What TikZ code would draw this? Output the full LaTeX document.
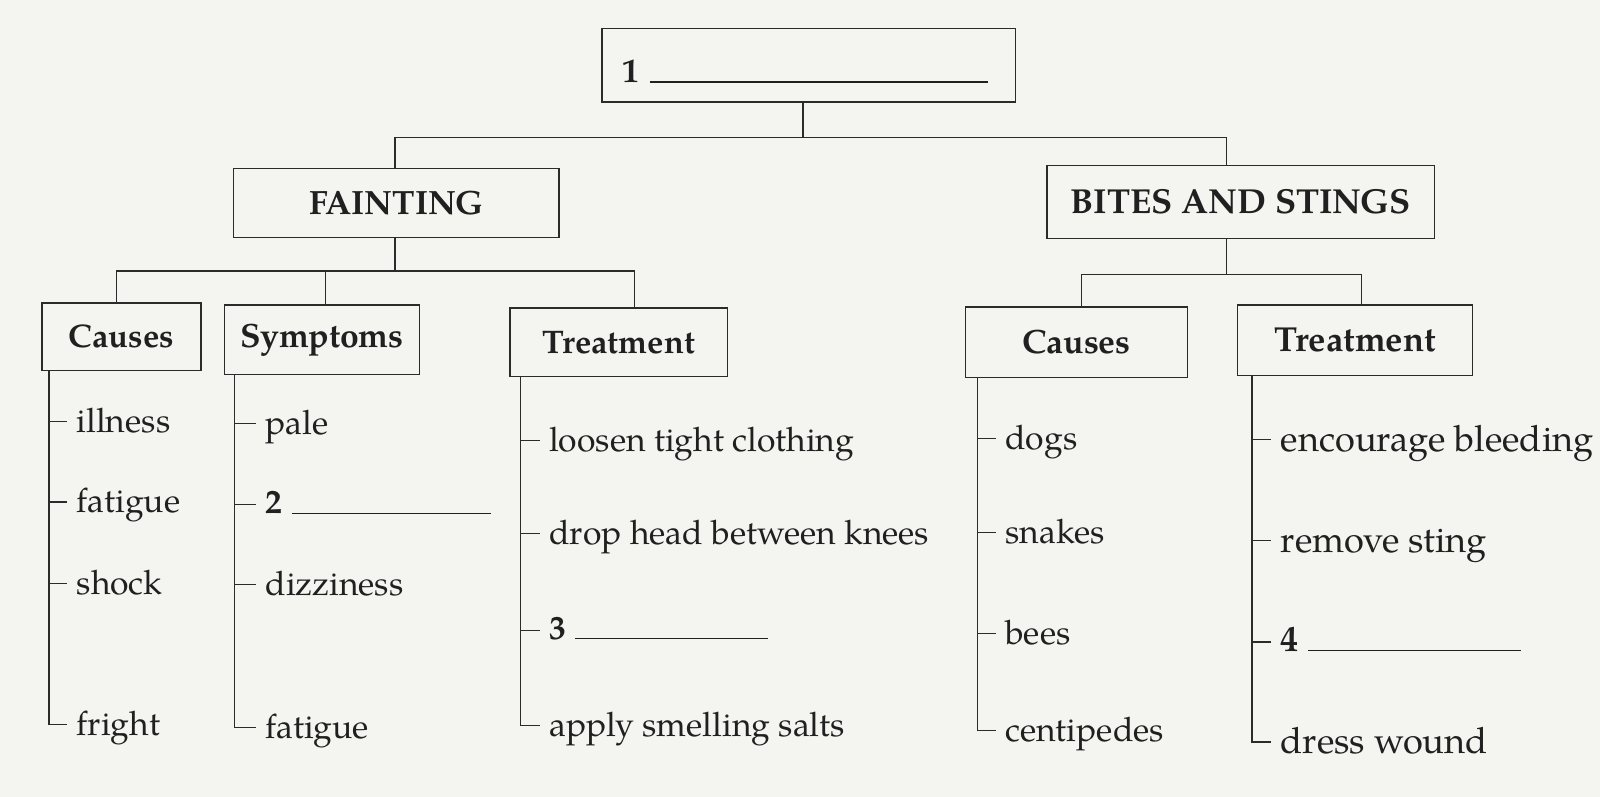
\documentclass[tikz,border=0pt]{standalone}
\usepackage{fontspec}
\setmainfont{TeX Gyre Pagella}
\definecolor{ink}{HTML}{2B2B2B}
\definecolor{txt}{HTML}{202020}
\definecolor{paper}{HTML}{F4F4F1}
\begin{document}
\begin{tikzpicture}[x=1pt,y=-1pt,
  box/.style={draw=ink, line width=1.4pt, inner sep=0pt, text=txt,
    font=\fontsize{32}{34}\selectfont\bfseries},
  item/.style={anchor=base west, inner sep=0pt, text=txt,
    font=\fontsize{33}{35}\selectfont},
  itemR/.style={item, font=\fontsize{35.5}{37}\selectfont},
  conn/.style={draw=ink, line width=1.3pt}]
\fill[paper] (0,0) rectangle (1568,781.06);
\useasboundingbox (0,0) rectangle (1568,781.06);
% top box
\node[box, minimum width=405pt, minimum height=72pt] (top) at (792.5,64) {};
\node[item, anchor=base west] (blank1) at (610,81) {\textbf{1}\hspace{10pt}\rule{332pt}{1.3pt}};
% level 1
\node[box, minimum width=319pt, minimum height=68pt, font=\fontsize{33}{35}\selectfont\bfseries] (faint) at (388.5,199) {FAINTING};
\node[box, minimum width=380pt, minimum height=72pt, font=\fontsize{34}{36}\selectfont\bfseries] (bites) at (1216,198) {BITES AND STINGS};
\draw[conn] ([xshift=-5.5pt]top.south) -- ++(0,34) -| ([xshift=-1.5pt]faint.north);
\draw[conn] ([xshift=-5.5pt]top.south) -- ++(0,34) -| ([xshift=-14pt]bites.north);
% level 2 fainting
\node[box, minimum width=156pt, minimum height=66pt] (fcause) at (119,330) {Causes};
\node[box, minimum width=191pt, minimum height=68pt, font=\fontsize{33}{35}\selectfont\bfseries] (fsymp) at (315.5,333) {Symptoms};
\node[box, minimum width=213pt, minimum height=67pt] (ftreat) at (606.5,335.5) {Treatment};
\draw[conn] ([xshift=-1.5pt]faint.south) -- ++(0,32) -| ([xshift=-5pt]fcause.north);
\draw[conn] ([xshift=-1.5pt]faint.south) -- ++(0,32) -| ([xshift=3.5pt]fsymp.north);
\draw[conn] ([xshift=-1.5pt]faint.south) -- ++(0,32) -| ([xshift=15.5pt]ftreat.north);
% level 2 bites
\node[box, minimum width=218pt, minimum height=69pt, font=\fontsize{33}{35}\selectfont\bfseries] (bcause) at (1055,335.5) {Causes};
\node[box, minimum width=230pt, minimum height=69pt, font=\fontsize{34}{36}\selectfont\bfseries] (btreat) at (1328,333.5) {Treatment};
\draw[conn] ([xshift=-14pt]bites.south) -- ++(0,34) -| ([xshift=5pt]bcause.north);
\draw[conn] ([xshift=-14pt]bites.south) -- ++(0,34) -| ([xshift=6pt]btreat.north);
% fainting causes list
\coordinate (v1) at ([xshift=-71pt]fcause.south);
\node[item] (c1) at (75,423.7) {illness};
\node[item] (c2) at (75,502.7) {fatigue};
\node[item] (c3) at (75,582.7) {shock};
\node[item] (c4) at (75,720.7) {fright};
% symptoms list
\coordinate (v2) at ([xshift=-85.5pt]fsymp.south);
\node[item] (s1) at (260,425.7) {pale};
\node[item] (s2) at (260,503.7) {\textbf{2}\hspace{9pt}\rule{195pt}{1.3pt}};
\node[item] (s3) at (260,583.7) {dizziness};
\node[item] (s4) at (260,723.7) {fatigue};
% fainting treatment list
\coordinate (v3) at ([xshift=-96.5pt]ftreat.south);
\node[item] (t1) at (538,442.7) {loosen tight clothing};
\node[item] (t2) at (538,533.7) {drop head between knees};
\node[item] (t3) at (538,626.7) {\textbf{3}\hspace{9pt}\rule{189pt}{1.3pt}};
\node[item] (t4) at (538,721.7) {apply smelling salts};
% bites causes list
\coordinate (v4) at ([xshift=-97pt]bcause.south);
\node[item] (b1) at (985,440.7) {dogs};
\node[item] (b2) at (985,532.7) {snakes};
\node[item] (b3) at (985,631.7) {bees};
\node[item] (b4) at (985,726.7) {centipedes};
% bites treatment list
\coordinate (v5) at ([xshift=-101pt]btreat.south);
\node[itemR] (r1) at (1255,442.3) {encourage bleeding};
\node[itemR] (r2) at (1255,541.3) {remove sting};
\node[itemR] (r3) at (1255,638.3) {\textbf{4}\hspace{9pt}\rule{209pt}{1.3pt}};
\node[itemR] (r4) at (1255,738.3) {dress wound};
% list connectors
\foreach \v/\lst/\last/\dy/\dz in {v1/{c1,c2,c3}/c4/10.7/10.7, v2/{s1,s3}/s4/10.7/10.7, v3/{t1,t2}/t4/10.7/10.7, v4/{b1,b2,b3}/b4/10.7/10.7, v5/{r1,r2}/r4/11.3/11.3}{
  \path ([shift={(-9pt,\dz pt)}]\last.base west) coordinate (e\last);
  \draw[conn] (\v) |- (e\last);
  \foreach \n in \lst {
    \path ([shift={(-9pt,\dy pt)}]\n.base west) coordinate (e\n);
    \draw[conn] (\v |- e\n) -- (e\n);
  }
}
% blanks: tick sits a little higher above the rule
\foreach \v/\n in {v2/s2, v3/t3, v5/r3}{
  \path ([shift={(-9pt,9pt)}]\n.base west) coordinate (e\n);
  \draw[conn] (\v |- e\n) -- (e\n);
}
\end{tikzpicture}
\end{document}
